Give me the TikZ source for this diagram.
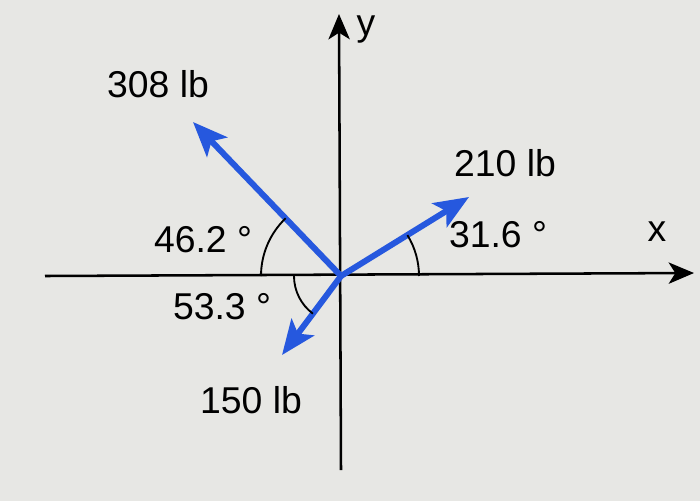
\documentclass[tikz,border=0pt]{standalone}
\usepackage{fontspec}
\setmainfont{Liberation Sans}
\usetikzlibrary{arrows.meta}
\definecolor{screengray}{RGB}{231,231,228}
\definecolor{vecblue}{RGB}{38,88,222}
\tikzset{every picture/.style={line width=0.75pt}}
\tikzset{
  axisline/.style={line width=1.9pt,-{Stealth[length=19pt,width=16pt,inset=5pt]}},
  vecarrow/.style={vecblue,line width=4.5pt,-{Stealth[length=26pt,width=21pt,inset=6pt]}},
  anglearc/.style={line width=1.4pt},
  lbl/.style={inner sep=0.75pt,font=\fontsize{28}{34}\selectfont}
}

\begin{document}
\begin{tikzpicture}[x=0.75pt,y=0.75pt,yscale=-1,xscale=1]
\useasboundingbox (0,0) rectangle (700,501);
\fill[screengray] (0,0) rectangle (700,501);

\coordinate (O) at (341,276);
\coordinate (xl) at (45,276);
\coordinate (xr) at (694,273);
\coordinate (yb) at (341,470);
\coordinate (yt) at (339,14);
\coordinate (F308) at (193,122);
\coordinate (F210) at (469,197);
\coordinate (F150) at (282,355);

%Shape: Axis 2D
\draw[axisline] (xl) -- (xr);
\draw[axisline] (yb) -- (yt);

%Shape: Force vectors
\draw[vecarrow] (O) -- (F308);
\draw[vecarrow] (O) -- (F210);
\draw[vecarrow] (O) -- (F150);

%Shape: Arcs
\draw[anglearc] (261,276) arc (-180:-133.8:80);
\draw[anglearc] (419,276) arc (0:-31.6:78);
\draw[anglearc] (294,276) arc (-180:-233.3:47);

% Text Node
\node[lbl] (lbl308) at (158,84) {308 lb};
% Text Node
\node[lbl] (lbl210) at (505,163) {210 lb};
% Text Node
\node[lbl] (lbl150) at (251,400) {150 lb};
% Text Node
\node[lbl] (ang316) at (498,235) {31.6 °};
% Text Node
\node[lbl] (ang462) at (203,240) {46.2 °};
% Text Node
\node[lbl] (ang533) at (222,307) {53.3 °};
% Text Node
\node[lbl] (xlbl) at (657,232) {x};
% Text Node
\node[lbl] (ylbl) at (366,30) {y};
\end{tikzpicture}
\end{document}
